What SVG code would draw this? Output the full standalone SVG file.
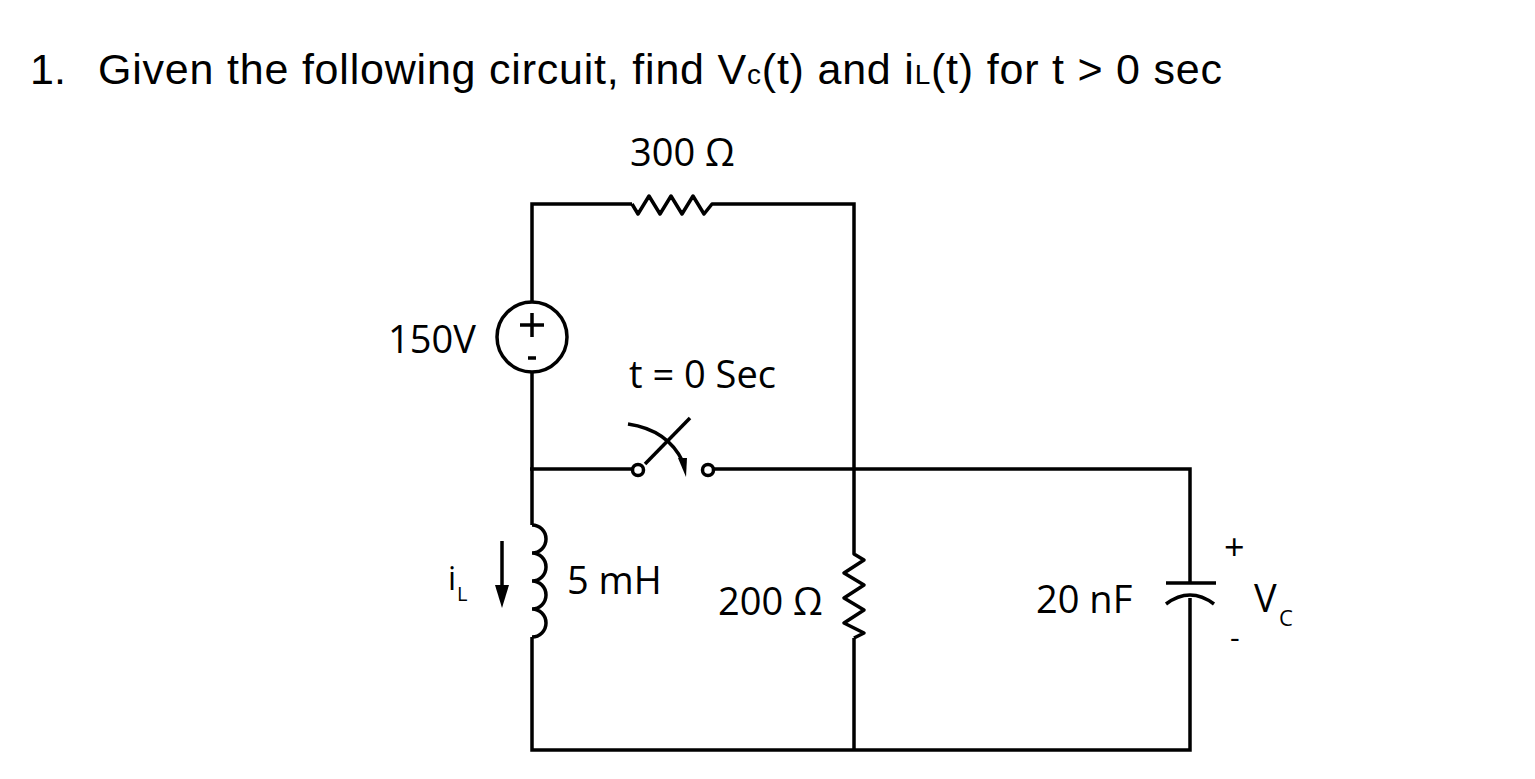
<svg xmlns="http://www.w3.org/2000/svg" width="1535" height="779" viewBox="0 0 1535 779">
<style>
.w{fill:none;stroke:#000;stroke-width:3.5;stroke-linejoin:miter}
.z{fill:none;stroke:#000;stroke-width:3.5;stroke-linejoin:round}
.t{font-family:"Liberation Sans",Arial,sans-serif;font-size:43px}
.l{font-family:"Open Sans","Noto Sans",sans-serif;font-size:38px}
.a{fill:#000}
</style>
<rect width="1535" height="779" fill="#fff"/>
<text class="t" x="30" y="84">1.</text>
<text class="t" x="98" y="84" textLength="1124" lengthAdjust="spacing">Given the following circuit, find V<tspan font-size="28">c</tspan>(t) and i<tspan font-size="28">L</tspan>(t) for t &gt; 0 sec</text>
<g id="connectors">
<path class="w" d="M532,302 V204 H632 M720,204 H854 V548 M854,638 V750 H532 V637 M532,525 V372 M530,469 H633 M713,469 H1190 V583 M1190,598 V750 H854"/>
</g>
<g id="r300"><path class="z" d="M632,204 L638,214 L649,196 L660,214 L671,196 L682,214 L693,196 L704,214 L712,204 L720,204"/><text class="l" x="630" y="166">300 Ω</text></g>
<g id="v150"><circle class="w" cx="532" cy="337" r="35"/><path class="w" d="M520,325 H544 M532,313 V337 M528,358 H536" stroke-width="2.5"/><text class="l" x="388" y="353">150V</text></g>
<g id="switch"><circle class="w" cx="638" cy="470" r="5.5" stroke-width="3"/><circle class="w" cx="708" cy="470" r="5.5" stroke-width="3"/><path class="w" d="M645,464 L690,418"/><path class="w" d="M628,424 Q668,430 683,462"/><path class="a" d="M678,458 L687,458 L686,477Z"/><text class="l" x="629" y="388">t = 0 Sec</text></g>
<g id="ind"><path class="w" d="M532,525 a14,14 0 0 1 0,28 a14,14 0 0 1 0,28 a14,14 0 0 1 0,28 a14,14 0 0 1 0,28"/><text class="l" x="567" y="594">5 mH</text><text class="l" x="448" y="590" style="font-size:32px">i</text><text class="l" x="457" y="601" style="font-size:20px">L</text><path class="w" d="M502,541 V590"/><path class="a" d="M495,585 L509,585 L502,608Z"/></g>
<g id="r200"><path class="z" d="M854,548 L854,554 L864,560 L844,573 L864,585 L844,598 L864,610 L844,623 L864,633 L854,638"/><text class="l" x="718" y="615">200 Ω</text></g>
<g id="cap"><path class="w" d="M1166,583 H1216 M1166,604 Q1190,586 1214,604"/><text class="l" x="1224" y="560" style="font-size:36px">+</text><text class="l" x="1036" y="613">20 nF</text><text class="l" x="1254" y="612">V</text><text class="l" x="1279" y="626" style="font-size:22px">C</text><text class="l" x="1230" y="648" style="font-size:30px">-</text></g>
</svg>
